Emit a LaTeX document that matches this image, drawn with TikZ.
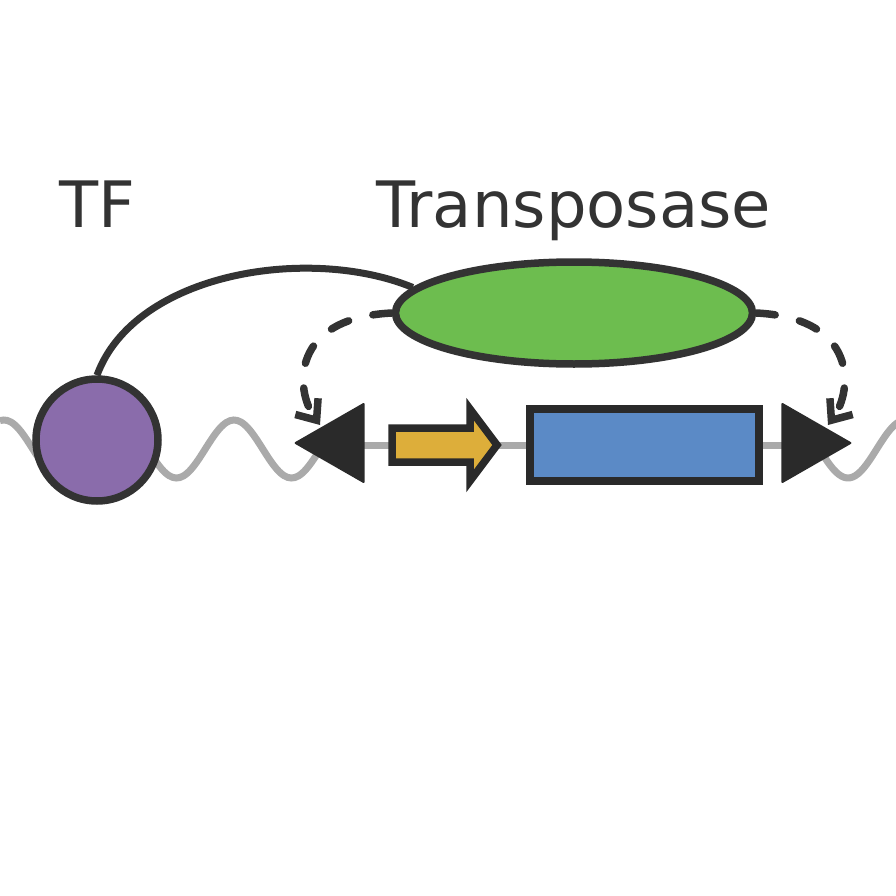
\documentclass[tikz,border=0pt]{standalone}
\usepackage{fontspec}
\setmainfont{DejaVu Sans}
\usetikzlibrary{arrows.meta,positioning,shapes.geometric}
\definecolor{ink}{HTML}{333333}
\definecolor{dark}{HTML}{2A2A2A}
\definecolor{wirec}{HTML}{AAAAAA}
\definecolor{tfc}{HTML}{8A6CAB}
\definecolor{tnpc}{HTML}{6DBD4F}
\definecolor{genec}{HTML}{5B8AC6}
\definecolor{promc}{HTML}{DDAE3A}

\begin{document}
\begin{tikzpicture}[x=1pt,y=-1pt,>=Stealth,
 lbl/.style={text=ink,font=\fontsize{64}{70}\selectfont,inner sep=0pt,anchor=base},
 prot/.style={draw=ink,line width=7.5pt,inner sep=0pt},
 ir/.style={isosceles triangle,isosceles triangle stretches,fill=dark,draw=dark,
  line width=2pt,line join=round,minimum width=78pt,minimum height=68pt,inner sep=0pt},
 wire/.style={draw=wirec,line width=7pt},
 link/.style={draw=ink,line width=7pt},
 cut/.style={draw=ink,line width=7.5pt,line cap=round,dash pattern=on 19pt off 25pt}]
\useasboundingbox (0,0) rectangle (896,896);
% DNA backbone
\draw[wire] plot[domain=0:320,samples=90,smooth] (\x,{449-29*cos(3.1304*(\x-4))});
\draw[wire] (320,445) -- (830,445);
\draw[wire] plot[domain=819:900,samples=30,smooth] (\x,{449+29*cos(3.1304*(\x-848))});
% proteins
\node[lbl] (tfLabel) at (97,227) {TF};
\node[lbl] (tnpLabel) at (574,227) {Transposase};
\node[prot,circle,fill=tfc,minimum size=122pt] (tf) at (97,440) {};
\node[prot,ellipse,fill=tnpc,minimum width=357pt,minimum height=102pt] (tnp) at (574,313) {};
% transposon
\node[ir,shape border rotate=180,anchor=apex] (irL) at (293,443) {};
\node[ir,anchor=apex] (irR) at (853,443) {};
\draw[draw=dark,fill=promc,line width=7.5pt,line join=miter]
 (392,428) -- (470,428) -- (470,409) -- (497,445) -- (470,481) -- (470,462) -- (392,462) -- cycle;
\node[draw=dark,fill=genec,line width=7.5pt,minimum width=229pt,minimum height=72pt,inner sep=0pt] (gene) at (644.5,445) {};
\coordinate (cutL) at (320,425);
\coordinate (cutR) at (828,425);
% links
\draw[link] (tf.north) .. controls (135,272) and (310,245) .. (tnp.171);
\draw[cut,-{Straight Barb[length=17pt,width=28pt]}] (tnp.west) .. controls (290,318) and (295,390) .. (cutL);
\draw[cut,-{Straight Barb[length=17pt,width=28pt]}] (tnp.east) .. controls (858,318) and (853,390) .. (cutR);
\end{tikzpicture}
\end{document}
